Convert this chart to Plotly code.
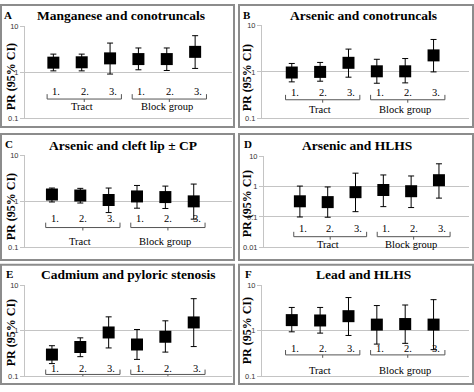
import plotly.graph_objects as go

# ---------------- data ----------------
categories = ["1.", "2.", "3.", "1.", "2.", "3."]
group_labels = ["Tract", "Block group"]
panel_titles = ["Manganese and conotruncals", "Arsenic and conotruncals",
                "Arsenic and cleft lip ± CP", "Arsenic and HLHS",
                "Cadmium and pyloric stenosis", "Lead and HLHS"]
panel_letters = ["A", "B", "C", "D", "E", "F"]
y_title = "PR (95% CI)"

mn_conotruncal_pr = [1.63, 1.66, 2.02, 1.95, 1.95, 2.8]
mn_conotruncal_lo = [1.08, 1.08, 0.92, 1.14, 1.10, 1.22]
mn_conotruncal_hi = [2.5, 2.5, 4.35, 3.4, 3.4, 6.3]

as_conotruncal_pr = [0.97, 1.0, 1.57, 1.03, 1.03, 2.27]
as_conotruncal_lo = [0.61, 0.63, 0.77, 0.57, 0.58, 1.0]
as_conotruncal_hi = [1.52, 1.6, 3.1, 1.87, 1.94, 5.0]

as_cleft_pr = [1.41, 1.34, 1.07, 1.28, 1.24, 1.0]
as_cleft_lo = [0.97, 0.92, 0.57, 0.71, 0.70, 0.41]
as_cleft_hi = [1.95, 1.92, 1.95, 2.22, 2.15, 2.38]

as_hlhs_pr = [0.33, 0.31, 0.66, 0.78, 0.71, 1.64]
as_hlhs_lo = [0.10, 0.098, 0.15, 0.22, 0.205, 0.42]
as_hlhs_hi = [1.05, 0.98, 2.8, 2.44, 2.26, 5.7]

cd_pyloric_pr = [0.30, 0.44, 0.92, 0.50, 0.74, 1.53]
cd_pyloric_lo = [0.19, 0.27, 0.42, 0.235, 0.34, 0.45]
cd_pyloric_hi = [0.47, 0.70, 2.03, 1.07, 1.66, 5.1]

pb_hlhs_pr = [1.72, 1.69, 2.1, 1.37, 1.41, 1.37]
pb_hlhs_lo = [0.95, 0.89, 0.79, 0.51, 0.53, 0.385]
pb_hlhs_hi = [3.27, 3.27, 5.4, 3.6, 3.7, 4.85]

series = [
    (mn_conotruncal_pr, mn_conotruncal_lo, mn_conotruncal_hi),
    (as_conotruncal_pr, as_conotruncal_lo, as_conotruncal_hi),
    (as_cleft_pr, as_cleft_lo, as_cleft_hi),
    (as_hlhs_pr, as_hlhs_lo, as_hlhs_hi),
    (cd_pyloric_pr, cd_pyloric_lo, cd_pyloric_hi),
    (pb_hlhs_pr, pb_hlhs_lo, pb_hlhs_hi),
]

# ---------------- layout (pixels) ----------------
W, H = 474, 392
panels = [
    dict(box=(1, 1, 234, 126), xdom=(25, 232), ydom=(23, 117), yr=(-1, 1), xr=(0, 7.3),
         lab=-0.42, br=-0.58, grp=-0.75, title=(121, 12), letter=(8, 11), yt=(11, 75)),
    dict(box=(239, 1, 473, 126), xdom=(262, 469), ydom=(22, 117), yr=(-1, 1), xr=(-0.05, 7.25),
         lab=-0.44, br=-0.60, grp=-0.82, title=(363, 12), letter=(247, 11), yt=(247, 75)),
    dict(box=(1, 133, 234, 262), xdom=(25, 232), ydom=(155, 249), yr=(-1, 1), xr=(0.05, 7.35),
         lab=-0.38, br=-0.57, grp=-0.87, title=(123, 145), letter=(9, 143), yt=(11, 208)),
    dict(box=(239, 133, 473, 262), xdom=(264, 469), ydom=(156, 249), yr=(-2, 1), xr=(-0.29, 7.08),
         lab=-1.39, br=-1.65, grp=-1.9, title=(357, 145), letter=(248, 143), yt=(247, 204)),
    dict(box=(1, 267, 234, 389), xdom=(25, 232), ydom=(288, 381), yr=(-1, 1), xr=(0.05, 7.35),
         lab=-0.84, br=-0.96, grp=-1.13, title=(128, 277), letter=(9, 276), yt=(11, 337)),
    dict(box=(239, 267, 473, 389), xdom=(262, 469), ydom=(288, 381), yr=(-1, 1), xr=(-0.05, 7.25),
         lab=-0.38, br=-0.53, grp=-0.87, title=(363, 277), letter=(248, 276), yt=(247, 334)),
]

def fx(p):
    return p / W

def fy(p):
    return 1 - p / H

SERIF = "Liberation Serif, Times New Roman, serif"
SANS = "Liberation Sans, Arial, sans-serif"
GRID = "#c4c4c4"

fig = go.Figure()
annotations = []
shapes = []
layout_axes = {}

for i, (cfg, (pr, lo, hi)) in enumerate(zip(panels, series)):
    n = "" if i == 0 else str(i + 1)
    xref, yref = "x" + n, "y" + n
    pos = [k + 1 for k in range(len(categories))]

    fig.add_trace(go.Scatter(
        x=pos, y=pr, mode="markers", xaxis=xref, yaxis=yref, showlegend=False,
        marker=dict(symbol="square", size=12, color="black", line=dict(width=0)),
        error_y=dict(type="data", symmetric=False,
                     array=[h - p for h, p in zip(hi, pr)],
                     arrayminus=[p - l for p, l in zip(pr, lo)],
                     color="black", thickness=1, width=3),
        cliponaxis=False, hoverinfo="skip",
    ))

    tickvals = [10 ** e for e in range(cfg["yr"][0], cfg["yr"][1] + 1)]
    ticktext = [("%g" % v) for v in tickvals]

    layout_axes["xaxis" + n] = dict(
        domain=[fx(cfg["xdom"][0]), fx(cfg["xdom"][1])], range=list(cfg["xr"]),
        anchor=yref, showgrid=False, zeroline=False, showticklabels=False,
        showline=True, linecolor=GRID, linewidth=1, ticks="", fixedrange=True)
    layout_axes["yaxis" + n] = dict(
        domain=[fy(cfg["ydom"][1]), fy(cfg["ydom"][0])], type="log", range=list(cfg["yr"]),
        anchor=xref, tickvals=tickvals, ticktext=ticktext, showgrid=True, gridcolor=GRID,
        gridwidth=1, zeroline=False, showline=True, linecolor=GRID, linewidth=1,
        ticks="outside", ticklen=4, tickcolor=GRID,
        tickfont=dict(family=SANS, size=7.5, color="#333"), fixedrange=True)

    # panel border
    x0, y0, x1, y1 = cfg["box"]
    shapes.append(dict(type="rect", xref="paper", yref="paper",
                       x0=fx(x0), x1=fx(x1), y0=fy(y1), y1=fy(y0),
                       line=dict(color="#8c8c8c", width=2), layer="above"))

    # title, letter, y-title
    annotations.append(dict(text="<b>%s</b>" % panel_titles[i], xref="paper", yref="paper",
                            x=fx(cfg["title"][0]), y=fy(cfg["title"][1]), xanchor="center",
                            yanchor="middle", showarrow=False,
                            font=dict(family=SERIF, size=13.5, color="black")))
    annotations.append(dict(text="<b>%s</b>" % panel_letters[i], xref="paper", yref="paper",
                            x=fx(cfg["letter"][0]), y=fy(cfg["letter"][1]), xanchor="center",
                            yanchor="middle", showarrow=False,
                            font=dict(family=SERIF, size=11, color="black")))
    annotations.append(dict(text="<b>%s</b>" % y_title, xref="paper", yref="paper",
                            x=fx(cfg["yt"][0]), y=fy(cfg["yt"][1]), xanchor="center",
                            yanchor="middle", showarrow=False, textangle=-90,
                            font=dict(family=SERIF, size=12, color="black")))

    # category labels, brackets, group labels
    dec_per_px = (cfg["yr"][1] - cfg["yr"][0]) / (cfg["ydom"][1] - cfg["ydom"][0])
    up = 5 * dec_per_px
    down = 3 * dec_per_px
    for k, c in enumerate(categories):
        annotations.append(dict(text=c, xref=xref, yref=yref, x=pos[k] + 0.1, y=cfg["lab"],
                                showarrow=False, xanchor="center", yanchor="middle",
                                font=dict(family=SERIF, size=10.5, color="black")))
    for g, gl in enumerate(group_labels):
        a, b = pos[3 * g], pos[3 * g + 2]
        bx0, bx1 = a - 0.22, b + 0.4
        mid = (bx0 + bx1) / 2
        yb = cfg["br"]
        # path coordinates on a log axis are given as data values
        ytop, ybot, ytick = 10 ** (yb + up), 10 ** yb, 10 ** (yb - down)
        path = "M %f,%g L %f,%g L %f,%g L %f,%g M %f,%g L %f,%g" % (
            bx0, ytop, bx0, ybot, bx1, ybot, bx1, ytop, mid, ybot, mid, ytick)
        shapes.append(dict(type="path", xref=xref, yref=yref, path=path,
                           line=dict(color="#555", width=1)))
        annotations.append(dict(text=gl, xref=xref, yref=yref, x=pos[3 * g + 1], y=cfg["grp"],
                                showarrow=False, xanchor="center", yanchor="middle",
                                font=dict(family=SERIF, size=10.5, color="black")))

fig.update_layout(
    width=W, height=H, margin=dict(l=0, r=0, t=0, b=0),
    paper_bgcolor="white", plot_bgcolor="white",
    annotations=annotations, shapes=shapes, showlegend=False, hovermode=False,
    **layout_axes,
)

fig.write_html("out.html", config={"displayModeBar": False, "staticPlot": True},
               post_script="document.body.style.margin='0';document.body.style.padding='0';")
